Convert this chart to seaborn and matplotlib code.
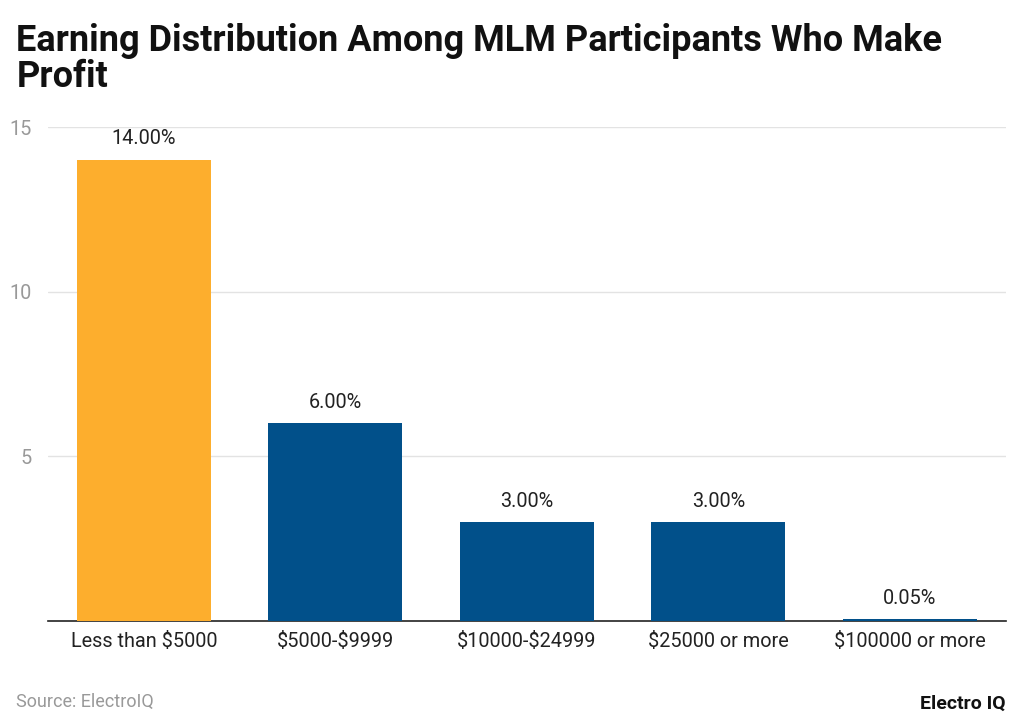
import pandas as pd
import matplotlib.pyplot as plt
import seaborn as sns

categories = ["Less than $5000", "$5000-$9999", "$10000-$24999", "$25000 or more", "$100000 or more"]
shares = [14.00, 6.00, 3.00, 3.00, 0.05]
bar_colors = ["#FDAE2D", "#01508A", "#01508A", "#01508A", "#01508A"]

df = pd.DataFrame({"category": categories, "share": shares})

sns.set_theme(style="white")
plt.rcParams["font.family"] = ["Roboto", "DejaVu Sans"]

fig = plt.figure(figsize=(10.24, 7.28), dpi=100)
ax = fig.add_axes([0.047, 0.147, 0.935, 0.6785])

sns.barplot(data=df, x="category", y="share", hue="category", palette=bar_colors,
            width=0.7, legend=False, saturation=1, linewidth=0, ax=ax)
# keep the tiny last bar visible above the baseline
for p in ax.patches:
    p.set_zorder(3)

for i, v in enumerate(shares):
    ax.text(i, v + 0.35, f"{v:.2f}%", ha="center", va="bottom", fontsize=14.3, color="#222222")

ax.set_ylim(0, 15)
ax.set_xlim(-0.5, 4.5)
ax.set_yticks([5, 10, 15])
ax.set_xticks(range(len(categories)))
ax.set_xticklabels([c.replace("$", r"\$") for c in categories])
ax.yaxis.grid(True, color="#e3e3e3", linewidth=1)
ax.set_axisbelow(True)
for s in ["top", "right", "left"]:
    ax.spines[s].set_visible(False)
ax.spines["bottom"].set_color("#222222")
ax.spines["bottom"].set_linewidth(1.2)
ax.tick_params(axis="y", labelsize=14.3, labelcolor="#999999", length=0, pad=12)
ax.tick_params(axis="x", labelsize=14.3, labelcolor="#222222", length=0, pad=8)
ax.set_xlabel("")
ax.set_ylabel("")

fig.text(0.016, 0.968, "Earning Distribution Among MLM Participants Who Make\nProfit",
         fontsize=26, fontweight="bold", color="#111111", va="top", ha="left",
         linespacing=1.0)
fig.text(0.016, 0.036, "Source: ElectroIQ", fontsize=13, color="#999999", ha="left", va="center")
fig.text(0.982, 0.033, "Electro IQ", fontsize=14, fontweight="bold", color="#111111",
         ha="right", va="center")

fig.savefig("out.png", dpi=100)
